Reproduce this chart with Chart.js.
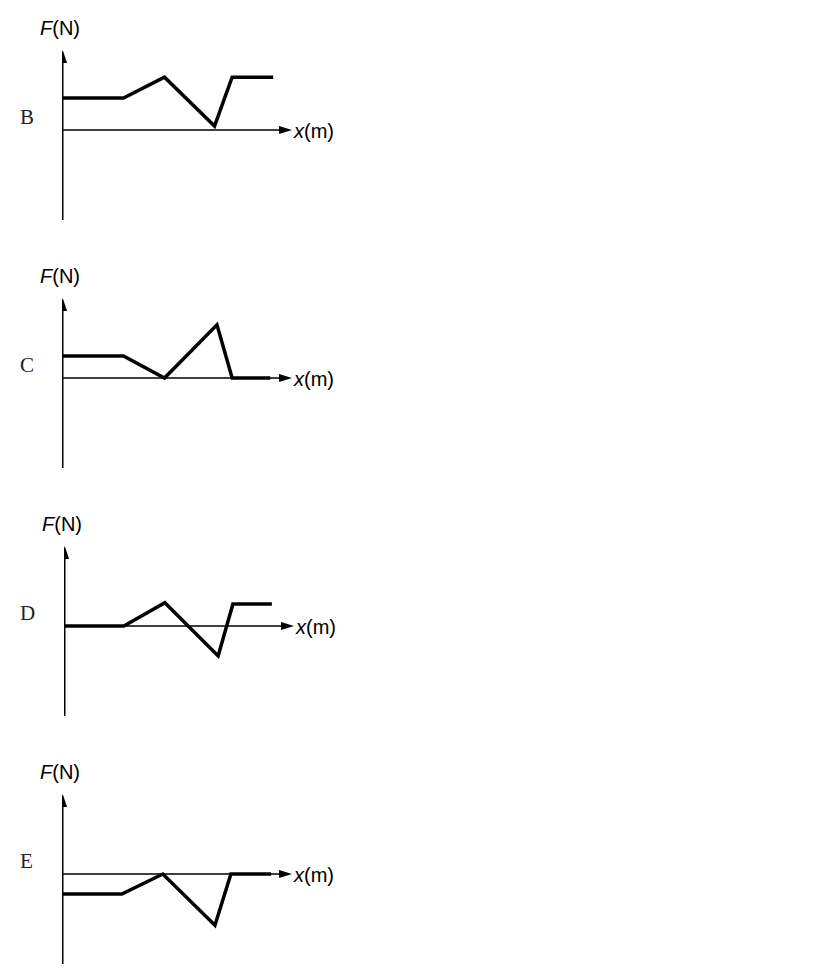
<!DOCTYPE html>
<html><head><meta charset="utf-8">
<script src="https://cdn.jsdelivr.net/npm/chart.js@4"></script>
<style>
body{margin:0;background:#fff;width:825px;height:979px;position:relative;overflow:hidden;font-family:"Liberation Sans",Arial,sans-serif}
.p{position:absolute;width:230px;height:170px}
.lbl{position:absolute;font-size:20px;color:#000;line-height:1}
.let{position:absolute;font-family:"Liberation Serif","Times New Roman",serif;font-size:21px;color:#222;line-height:1}
</style></head><body>
<script>
const panels = ["B","C","D","E"];
const xB = [0,1.5,2.5,3.72,4.15,5.15];
const yB = [0.8,0.8,1.32,0.1,1.32,1.32];
const xC = [0,1.5,2.5,3.78,4.15,5.08];
const yC = [0.55,0.55,0,1.33,0,0];
const xD = [0,1.46,2.46,3.76,4.12,5.07];
const yD = [0,0,0.58,-0.75,0.55,0.55];
const xE = [0,1.46,2.46,3.73,4.12,5.1];
const yE = [-0.5,-0.5,0,-1.28,0,0];
const series = {B:[xB,yB],C:[xC,yC],D:[xD,yD],E:[xE,yE]};
const zeroY = [131,379,627,875];
const leftX = [63,63,65,63];
const xMax = 230/41, yMax = 2.0, yMin = -2.25;

const axesPlugin = {
  id:'axes',
  afterDatasetsDraw(chart){
    const c = chart.ctx, xs = chart.scales.x, ys = chart.scales.y;
    const x0 = xs.getPixelForValue(0), y0 = ys.getPixelForValue(0);
    const yt = ys.getPixelForValue(yMax), yb = ys.getPixelForValue(yMin);
    const xr = xs.getPixelForValue(xMax);
    c.save(); c.strokeStyle='#000'; c.fillStyle='#000'; c.lineWidth=1.5;
    c.beginPath(); c.moveTo(x0+0.75,yb); c.lineTo(x0+0.75,yt+10); c.stroke();
    c.beginPath(); c.moveTo(x0,y0); c.lineTo(xr-12,y0); c.stroke();
    c.beginPath(); c.moveTo(x0+0.75,yt); c.lineTo(x0-3.5,yt+13); c.lineTo(x0+5,yt+13); c.closePath(); c.fill();
    c.beginPath(); c.moveTo(xr,y0); c.lineTo(xr-13,y0-4); c.lineTo(xr-13,y0+4); c.closePath(); c.fill();
    c.restore();
  }
};

panels.forEach((p,i)=>{
  const zy = zeroY[i], lx = leftX[i];
  const top = zy - 81;
  const d = document.createElement('div'); d.className='p';
  d.style.left=(lx-1)+'px'; d.style.top=top+'px';
  const cv = document.createElement('canvas'); d.appendChild(cv); document.body.appendChild(d);
  const f = document.createElement('div'); f.className='lbl';
  f.innerHTML='<i>F</i>(N)'; f.style.left=(lx-23)+'px'; f.style.top=(zy-113)+'px'; document.body.appendChild(f);
  const xl = document.createElement('div'); xl.className='lbl';
  xl.innerHTML='<i>x</i>(m)'; xl.style.left=(lx+231)+'px'; xl.style.top=(zy-10)+'px'; document.body.appendChild(xl);
  const L = document.createElement('div'); L.className='let';
  L.textContent=p; L.style.left='20px'; L.style.top=(zy-24)+'px'; document.body.appendChild(L);
  const [xs,ys] = series[p];
  new Chart(cv,{type:'line',
    data:{datasets:[{data:xs.map((x,k)=>({x:x,y:ys[k]})),borderColor:'#000',borderWidth:3.5,pointRadius:0,tension:0,fill:false,clip:false,borderJoinStyle:'miter'}]},
    options:{responsive:true,maintainAspectRatio:false,animation:false,
      layout:{padding:0},
      plugins:{legend:{display:false},tooltip:{enabled:false}},
      scales:{x:{type:'linear',min:0,max:xMax,display:false},y:{min:yMin,max:yMax,display:false}}},
    plugins:[axesPlugin]});
});
</script>
</body></html>
